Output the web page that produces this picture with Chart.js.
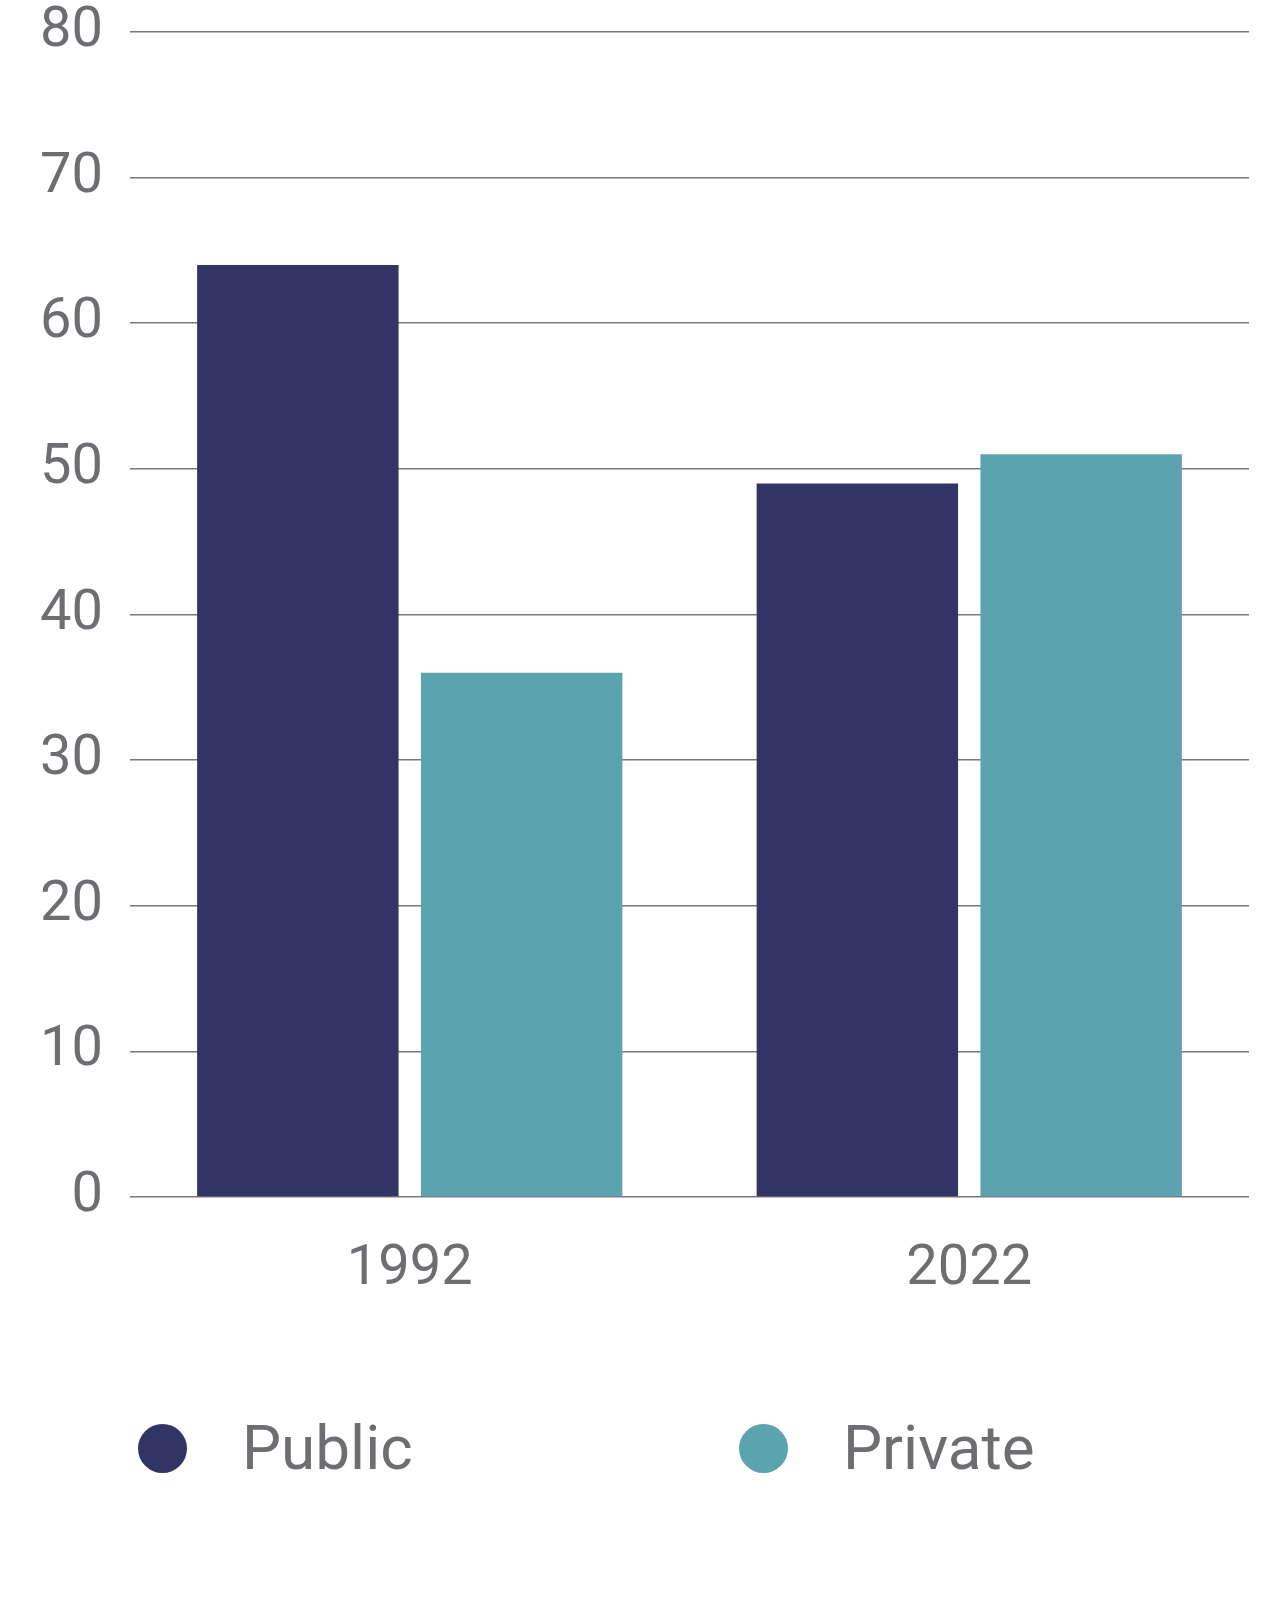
<!DOCTYPE html>
<html>
<head>
<meta charset="utf-8">
<script src="https://cdn.jsdelivr.net/npm/chart.js@4/dist/chart.umd.min.js"></script>
<style>
  html, body { margin: 0; padding: 0; background: #fff; }
  #wrap { position: relative; width: 1280px; height: 1600px; }
  #chart { position: absolute; left: 0; top: 0; }
  .legend-item { position: absolute; top: 1408px; height: 80px; display: flex; align-items: center;
    font-family: Roboto, "Noto Sans", sans-serif; font-size: 62px; color: #6d6e71; line-height: 1; }
  .legend-dot { width: 49px; height: 49px; border-radius: 50%; margin-right: 55px; }
</style>
</head>
<body>
<div id="wrap">
  <canvas id="chart" width="1280" height="1330"></canvas>
  <div id="legend"></div>
</div>
<script>
const categories = ['1992', '2022'];
const seriesNames = ['Public', 'Private'];
const publicValues = [64, 49];
const privateValues = [36, 51];
const seriesColors = ['#313464', '#5ba3ae'];
const yMax = 80;
const yStep = 10;

const textColor = '#6d6e71';
const gridColor = '#77787b';

const chart = new Chart(document.getElementById('chart'), {
  type: 'bar',
  data: {
    labels: categories,
    datasets: [
      { label: seriesNames[0], data: publicValues, backgroundColor: seriesColors[0] },
      { label: seriesNames[1], data: privateValues, backgroundColor: seriesColors[1] },
    ],
  },
  options: {
    responsive: false,
    animation: false,
    categoryPercentage: 0.8,
    barPercentage: 0.9,
    layout: { padding: { top: 32, right: 31, left: 0, bottom: 0 } },
    plugins: {
      legend: { display: false },
      tooltip: { enabled: false },
    },
    scales: {
      x: {
        grid: { display: false },
        border: { display: false },
        ticks: {
          color: textColor,
          padding: 31,
          font: { family: 'Roboto', size: 56 },
        },
        afterFit: (scale) => { scale.height = 133; },
      },
      y: {
        min: 0,
        max: yMax,
        grid: { color: gridColor, lineWidth: 1.6, drawTicks: false },
        border: { display: false },
        ticks: {
          stepSize: yStep,
          color: textColor,
          padding: 27,
          font: { family: 'Roboto', size: 56 },
        },
        afterFit: (scale) => {
          scale.width = 130;
          // tick padding shouldn't push the plot down
          scale.paddingTop = 0;
          scale.paddingBottom = 0;
        },
      },
    },
  },
});

// legend as html, built from the datasets
const legendLefts = [138, 739];
const legendEl = document.getElementById('legend');
chart.data.datasets.forEach((ds, i) => {
  const item = document.createElement('div');
  item.className = 'legend-item';
  item.style.left = legendLefts[i] + 'px';
  const dot = document.createElement('span');
  dot.className = 'legend-dot';
  dot.style.background = ds.backgroundColor;
  const txt = document.createElement('span');
  txt.textContent = ds.label;
  item.appendChild(dot);
  item.appendChild(txt);
  legendEl.appendChild(item);
});
</script>
</body>
</html>
